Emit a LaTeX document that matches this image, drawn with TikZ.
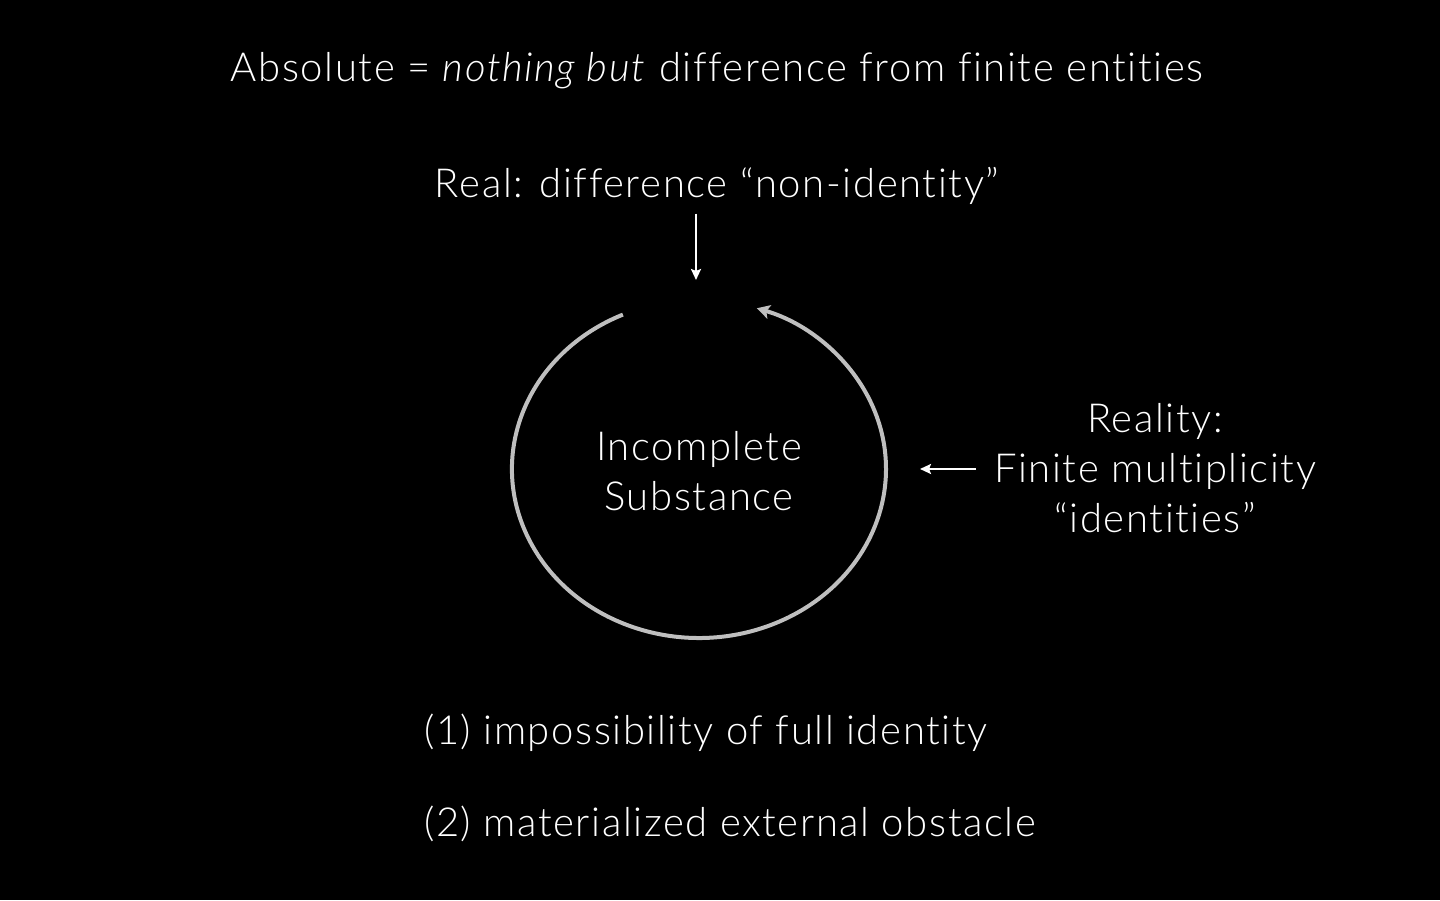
\documentclass[tikz,border=0pt]{standalone}
\usepackage{fontspec}
\setmainfont{Lato}[UprightFont=* Light, ItalicFont=* Light Italic, Ligatures=NoCommon, LetterSpace=4]
\usetikzlibrary{arrows,arrows.meta,positioning}

\begin{document}
\begin{tikzpicture}[x=1pt,y=1pt,>={Stealth[length=11pt,width=10pt,inset=2pt]},line width=2.2pt,white]

    \tikzstyle{every node}=[text=white,inner sep=0pt,align=center,font=\fontsize{40}{50}\selectfont]
    \tikzstyle{cycle}=[draw=black!25!white,line width=4pt,-{Stealth[length=13pt,width=14pt,inset=3pt]}]

    \fill[black] (0,0) rectangle (1440,900);

    \node (title)   at (717,829) {Absolute = \textit{nothing but} difference from finite entities};
    \node (real)    at (717,714) {Real: difference “non-identity”};
    \node (subst)   at (699,429) {Incomplete\\Substance};
    \node (reality) at (1155,432) {Reality:\\Finite multiplicity\\“identities”};
    \node[anchor=west] (one) at (423,167) {(1) impossibility of full identity};
    \node[anchor=west] (two) at (423,76)  {(2) materialized external obstacle};

    \coordinate (dtip) at (696,620);
    \coordinate (rtip) at (920,431);

    % the open circle round the substance
    \draw[cycle] (622.9,585.4) arc[start angle=114,end angle=432,x radius=187,y radius=169];

    \draw[->] (real.south -| dtip) ++(0,-8) -- (dtip);
    \draw[->] (reality.west |- rtip) ++(-17,0) -- (rtip);

\end{tikzpicture}
\end{document}
